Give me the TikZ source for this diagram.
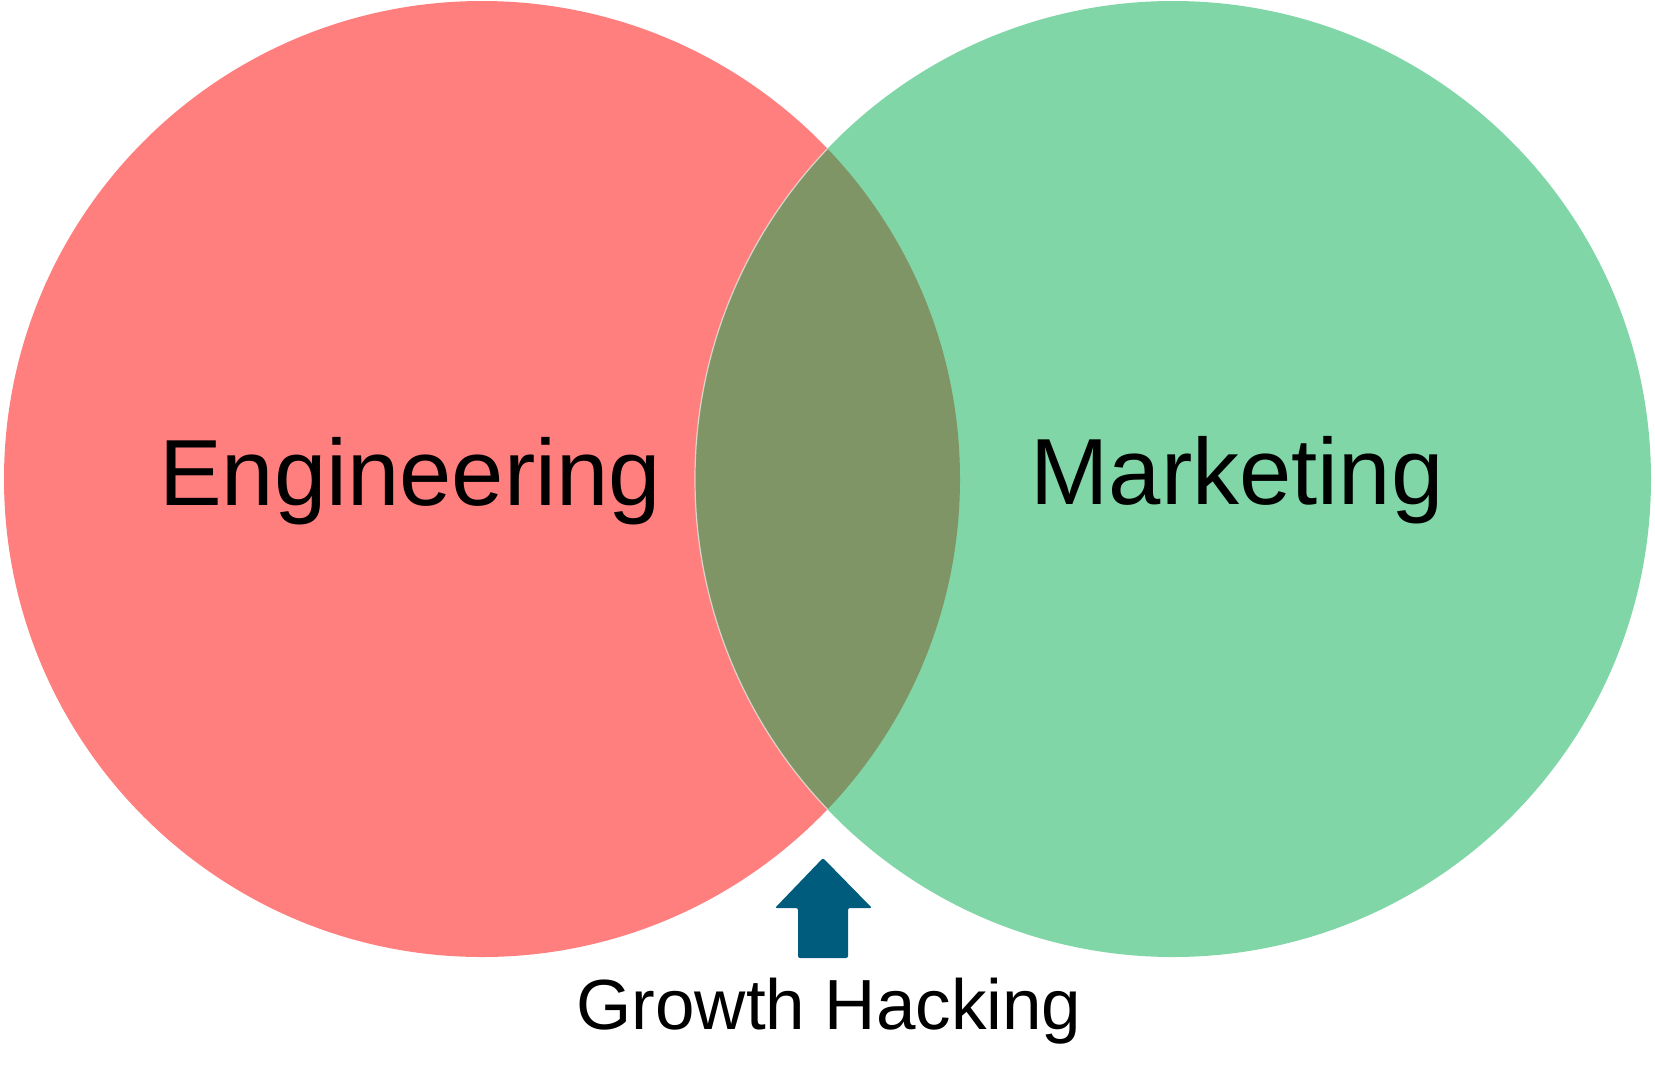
\documentclass[tikz,border=0pt]{standalone}
\usepackage{fontspec}
\setmainfont{Liberation Sans}
\definecolor{engred}{RGB}{255,127,127}
\definecolor{mktgreen}{RGB}{128,214,167}
\definecolor{overlapgreen}{RGB}{127,149,102}
\definecolor{arrowblue}{RGB}{0,92,124}
\begin{document}
\begin{tikzpicture}[
		x=0.5pt, y=-0.5pt,
		set/.style={circle, minimum size=478pt, inner sep=0pt},
		title/.style={font=\fontsize{47}{56}\selectfont, anchor=base},
		caption/.style={font=\fontsize{35.5}{42}\selectfont, anchor=base},
	]
		\useasboundingbox (0,0) rectangle (1655,1073);
		\node (eng) [set, fill=engred] at (482,479) {};
		\node (mkt) [set, fill=mktgreen] at (1173,479) {};
		\begin{scope}
			\clip (eng.center) circle [radius=239pt];
			\fill[overlapgreen] (mkt.center) circle [radius=239pt];
			\draw[white, opacity=.6, line width=.6pt] (mkt.center) circle [radius=239pt];
		\end{scope}
		
		\node (engl) [title] at (410,505) {Engineering};
		\node (mktl) [title] at (1237,504) {Marketing};
		\node (gh) [caption] at (829,1029) {Growth Hacking};
		
		\fill[arrowblue, rounded corners=1pt] (798,958) -- (798,908) -- (775,908) -- (823,858)
			-- (872,908) -- (848,908) -- (848,958) -- cycle;
	\end{tikzpicture}
\end{document}
